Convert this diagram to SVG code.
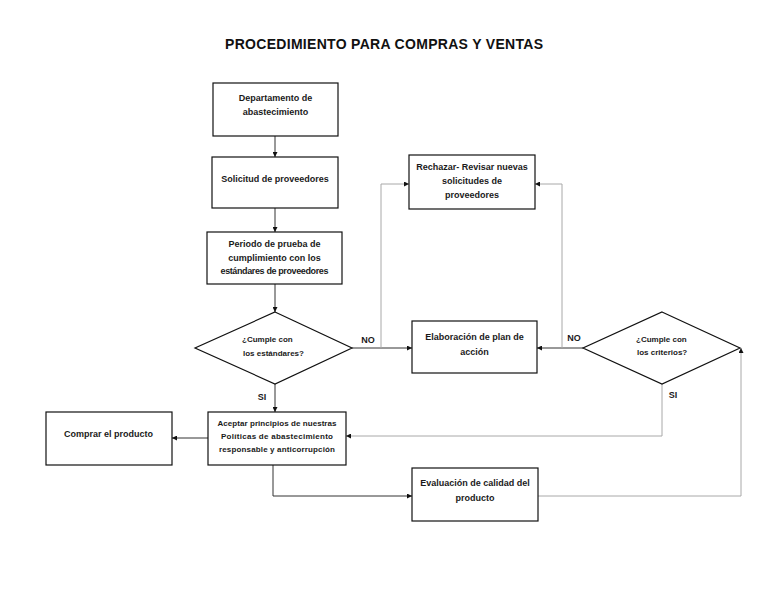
<svg xmlns="http://www.w3.org/2000/svg" width="768" height="594" viewBox="0 0 768 594">
<defs>
<marker id="arr" viewBox="0 0 10 10" refX="10" refY="5" markerWidth="5" markerHeight="5" orient="auto" markerUnits="userSpaceOnUse">
<path d="M0,0 L10,5 L0,10 z" fill="#111"/>
</marker>
<style>
.box{fill:#fff;stroke:#111;stroke-width:1.2}
.t{font-family:"Liberation Sans",Arial,sans-serif;font-size:9px;font-weight:bold;fill:#1a1a1a;text-anchor:middle}
.s{font-size:8px}
.d{font-family:"Liberation Sans",Arial,sans-serif;font-size:8px;font-weight:bold;fill:#1a1a1a}
.lbl{font-family:"Liberation Sans",Arial,sans-serif;font-size:9px;font-weight:bold;fill:#1a1a1a;text-anchor:middle}
.dk{fill:none;stroke:#333;stroke-width:1}
.gr{fill:none;stroke:#a8a8a8;stroke-width:1}
.title{font-family:"Liberation Sans",Arial,sans-serif;font-size:14px;font-weight:bold;fill:#111;text-anchor:middle}
</style>
</defs>
<rect width="768" height="594" fill="#fff"/>
<text class="title" x="384" y="49" textLength="318">PROCEDIMIENTO PARA COMPRAS Y VENTAS</text>

<g id="connectors">
<path class="dk" d="M275,136 V157" marker-end="url(#arr)"/>
<path class="dk" d="M275,208 V232" marker-end="url(#arr)"/>
<path class="dk" d="M275,284 V312" marker-end="url(#arr)"/>
<path class="dk" d="M275,384 V412" marker-end="url(#arr)"/>
<path class="dk" d="M352,348 H412" marker-end="url(#arr)"/>
<path class="gr" d="M381,348 V184 H409" marker-end="url(#arr)"/>
<path class="dk" d="M208,438 H172" marker-end="url(#arr)"/>
<path class="dk" d="M273,465 V496 H412" marker-end="url(#arr)"/>
<path class="gr" d="M538,496 H741 V348" marker-end="url(#arr)"/>
<path class="dk" d="M583,348 H537" marker-end="url(#arr)"/>
<path class="gr" d="M562,348 V184 H535" marker-end="url(#arr)"/>
<path class="gr" d="M662,384 V436 H346" marker-end="url(#arr)"/>
<text class="lbl" x="368" y="343">NO</text>
<text class="lbl" x="262" y="400">SI</text>
<text class="lbl" x="574" y="341">NO</text>
<text class="lbl" x="673" y="398">SI</text>
</g>

<g id="departamento">
<rect class="box" x="213" y="83" width="125" height="53"/>
<text class="t" x="275.5" y="101">Departamento de</text>
<text class="t" x="275.5" y="115">abastecimiento</text>
</g>

<g id="solicitud">
<rect class="box" x="212" y="157" width="126" height="51"/>
<text class="t" x="275" y="182">Solicitud de proveedores</text>
</g>

<g id="periodo">
<rect class="box" x="207" y="232" width="135" height="52"/>
<text class="t" x="274.5" y="247">Periodo de prueba de</text>
<text class="t" x="274.5" y="260.5">cumplimiento con los</text>
<text class="t" x="274.5" y="274" textLength="108">estándares de proveedores</text>
</g>

<g id="cumple-estandares">
<polygon class="box" points="275,312 352,348 275,384 195,348"/>
<text class="d" x="242" y="342">¿Cumple con</text>
<text class="d" x="243" y="356">los estándares?</text>
</g>

<g id="aceptar">
<rect class="box" x="208" y="412" width="138" height="53"/>
<text class="t s" x="277" y="426" textLength="119">Aceptar principios de nuestras</text>
<text class="t s" x="277" y="439" textLength="112">Políticas de abastecimiento</text>
<text class="t s" x="277" y="452" textLength="116">responsable y anticorrupción</text>
</g>

<g id="comprar">
<rect class="box" x="46" y="412" width="126" height="53"/>
<text class="t" x="108.5" y="437">Comprar el producto</text>
</g>

<g id="rechazar">
<rect class="box" x="409" y="155" width="126" height="54"/>
<text class="t" x="472" y="170">Rechazar- Revisar nuevas</text>
<text class="t" x="472" y="184">solicitudes de</text>
<text class="t" x="472" y="198">proveedores</text>
</g>

<g id="elaboracion">
<rect class="box" x="412" y="321" width="125" height="52"/>
<text class="t" x="474.5" y="340">Elaboración de plan de</text>
<text class="t" x="474.5" y="355">acción</text>
</g>

<g id="cumple-criterios">
<polygon class="box" points="662,312 740,348 662,384 583,348"/>
<text class="d" x="636" y="342">¿Cumple con</text>
<text class="d" x="637" y="355">los criterios?</text>
</g>

<g id="evaluacion">
<rect class="box" x="412" y="468" width="126" height="53"/>
<text class="t" x="475" y="486">Evaluación de calidad del</text>
<text class="t" x="475" y="501">producto</text>
</g>
</svg>
